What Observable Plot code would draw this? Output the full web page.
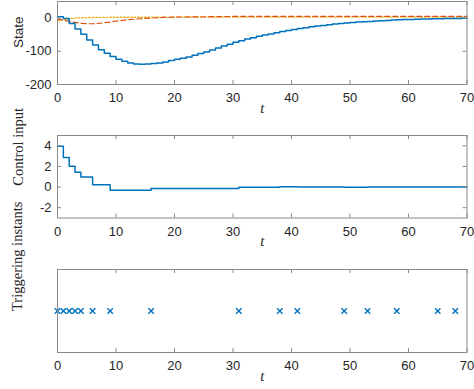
<!DOCTYPE html>
<html>
<head>
<meta charset="utf-8">
<script src="https://cdn.jsdelivr.net/npm/d3@7"></script>
<script src="https://cdn.jsdelivr.net/npm/@observablehq/plot@0.6"></script>
<style>
  html, body { margin: 0; padding: 0; background: #fff; }
  #chart svg { display: block; overflow: visible; }
</style>
</head>
<body>
<div id="chart"></div>
<script>
// ---- data ----
const xTicks = [0, 10, 20, 30, 40, 50, 60, 70];
const stateTicks = [-200, -100, 0];
const controlTicks = [-2, 0, 2, 4];

// state x1 (blue staircase), one value per sampling step t = 0..70
const stateBlue = [4, -1, -16, -33, -49, -66, -81, -95, -106, -116,
  -124, -130, -135, -138, -139, -138, -137, -135, -132, -128,
  -124, -121, -117, -112, -107, -102, -96, -90, -84, -79,
  -73, -68, -63, -59, -55, -51, -48, -44, -40, -37,
  -34, -31, -29, -26, -24, -22, -20, -18, -16, -15,
  -13, -12, -11, -10, -9, -8, -7, -6, -5, -4.5,
  -4, -3.5, -3, -2.5, -2, -2, -1.5, -1.2, -1, -0.8, -0.6];

// state x2 (red dashed)
const redTimes  = [0, 1, 2, 3, 4, 5, 6, 7, 8, 9, 10, 12, 14, 16, 18, 20, 25, 30, 40, 50, 60, 70];
const redValues = [-3, -6, -10, -13, -16, -17, -17, -16, -14, -12, -9, -5, -2, 0, 2, 3, 4, 5, 5, 5, 5, 5];

// state x3 (yellow dotted)
const yellowTimes  = [0, 1, 2, 3, 4, 6, 10, 20, 30, 40, 50, 60, 70];
const yellowValues = [-8, -5, -2, 0, 1, 2, 2.5, 3, 3, 3, 3, 3, 3];

// triggering instants and held control input
const triggerTimes = [0, 1, 2, 3, 4, 6, 9, 16, 31, 38, 41, 49, 53, 58, 65, 68];
const controlValues = [3.95, 2.87, 2.03, 1.43, 0.97, 0.23, -0.3, -0.13, -0.03, 0.03, 0.0, -0.02, 0.0, 0.0, 0.0, 0.0];
const tEnd = 70;

// ---- styling ----
const W = 474;
const ML = 57, MR = 7.5;
const frameColor = "#8a8a8a";
const textColor = "#262626";
const blue = "#0072BD", red = "#D95319", yellow = "#EDB120";
const sans = "'Liberation Sans', Arial, Helvetica, sans-serif";
const serif = "'Liberation Serif', 'Times New Roman', serif";
const tick = 4;

function commonMarks(frameH, frameW, yTicks, xPad) {
  const marks = [
    Plot.frame({stroke: frameColor}),
    Plot.axisX(xTicks, {tickSize: 0, tickPadding: xPad, tickFormat: d => String(d), label: null, fill: textColor, fontSize: 13}),
    Plot.tickX(xTicks, {x: d => d, insetTop: frameH - tick, stroke: frameColor}),
    Plot.tickX(xTicks, {x: d => d, insetBottom: frameH - tick, stroke: frameColor}),
    Plot.text(["t"], {text: d => d, frameAnchor: "bottom", dy: 28, fontFamily: serif, fontStyle: "italic", fontSize: 14.5, fill: textColor})
  ];
  if (yTicks) {
    marks.push(
      Plot.axisY(yTicks, {tickSize: 0, tickPadding: 6, tickFormat: d => String(d), label: null, fill: textColor, fontSize: 13}),
      Plot.tickY(yTicks, {y: d => d, insetLeft: frameW - tick, stroke: frameColor}),
      Plot.tickY(yTicks, {y: d => d, insetRight: frameW - tick, stroke: frameColor})
    );
  } else {
    marks.push(Plot.axisY({ticks: [], label: null}));
  }
  return marks;
}

const frameW = W - ML - MR;

// ---- panel 1: State ----
const p1H = 120, p1T = 1, p1B = 36;
const blueData = stateBlue.map((v, i) => ({t: i, v}));
const redData = redTimes.map((t, i) => ({t, v: redValues[i]}));
const yellowData = yellowTimes.map((t, i) => ({t, v: yellowValues[i]}));
const plot1 = Plot.plot({
  width: W, height: p1H,
  marginLeft: ML, marginRight: MR, marginTop: p1T, marginBottom: p1B,
  style: {fontFamily: sans, fontSize: "13px", color: textColor, background: "transparent", overflow: "visible"},
  x: {domain: [0, 70], axis: null},
  y: {domain: [-200, 50], axis: null},
  marks: [
    Plot.line(yellowData, {x: "t", y: "v", stroke: yellow, strokeWidth: 1.4, strokeDasharray: "1.5,2"}),
    Plot.line(redData, {x: "t", y: "v", stroke: red, strokeWidth: 1.2, strokeDasharray: "5,3"}),
    Plot.line(blueData, {x: "t", y: "v", stroke: blue, strokeWidth: 1.5, curve: "step-after"}),
    ...commonMarks(p1H - p1T - p1B, frameW, stateTicks, 8),
    Plot.text(["State"], {text: d => d, frameAnchor: "left", rotate: -90, dx: -39, dy: 5, fontFamily: sans, fontSize: 13.5, fill: textColor})
  ]
});

// ---- panel 2: Control input ----
const p2H = 135, p2T = 15, p2B = 37.5;
const controlData = triggerTimes.map((t, i) => ({t, u: controlValues[i]}));
controlData.push({t: tEnd, u: controlValues[controlValues.length - 1]});
const plot2 = Plot.plot({
  width: W, height: p2H,
  marginLeft: ML, marginRight: MR, marginTop: p2T, marginBottom: p2B,
  style: {fontFamily: sans, fontSize: "13px", color: textColor, background: "transparent", overflow: "visible"},
  x: {domain: [0, 70], axis: null},
  y: {domain: [-3, 5], axis: null},
  marks: [
    Plot.line(controlData, {x: "t", y: "u", stroke: blue, strokeWidth: 1.5, curve: "step-after"}),
    ...commonMarks(p2H - p2T - p2B, frameW, controlTicks, 9),
    Plot.text(["Control input"], {text: d => d, frameAnchor: "left", rotate: -90, dx: -39, dy: 9, fontFamily: serif, fontSize: 14.5, fill: textColor})
  ]
});

// ---- panel 3: Triggering instants ----
const p3H = 134, p3T = 14, p3B = 37;
const plot3 = Plot.plot({
  width: W, height: p3H,
  marginLeft: ML, marginRight: MR, marginTop: p3T, marginBottom: p3B,
  style: {fontFamily: sans, fontSize: "13px", color: textColor, background: "transparent", overflow: "visible"},
  x: {domain: [0, 70], axis: null},
  y: {domain: [-1, 1], axis: null},
  marks: [
    Plot.dot(triggerTimes, {x: d => d, y: () => 0, symbol: "times", r: 2.6, stroke: blue, strokeWidth: 1.4}),
    ...commonMarks(p3H - p3T - p3B, frameW, null, 8),
    Plot.text(["Triggering instants"], {text: d => d, frameAnchor: "left", rotate: -90, dx: -40, dy: 0, fontFamily: serif, fontSize: 14.5, fill: textColor})
  ]
});

const chart = document.getElementById("chart");
chart.append(plot1, plot2, plot3);
</script>
</body>
</html>
